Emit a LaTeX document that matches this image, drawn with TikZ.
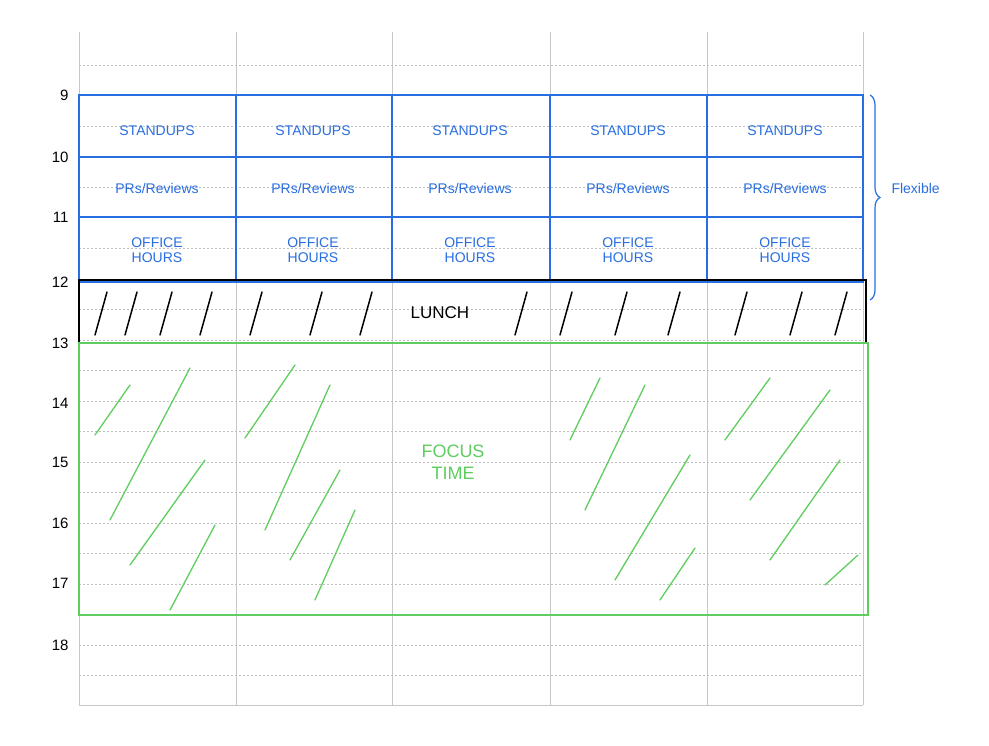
\documentclass[tikz,border=0pt]{standalone}
\usepackage{fontspec}
\setmainfont{Liberation Sans}
\usetikzlibrary{decorations.pathreplacing}
\definecolor{pen}{RGB}{40,110,225}
\definecolor{grn}{RGB}{95,205,95}
\tikzset{
 solidgrid/.style={draw=black!22,line width=0.8pt},
 dashgrid/.style={draw=black!25,dashed,dash pattern=on 2pt off 2pt,line width=0.5pt},
 bluepen/.style={draw=pen,line width=1.4pt},
 bluetxt/.style={text=pen,font=\fontsize{14}{15}\selectfont,align=center},
 blackpen/.style={draw=black,line width=1.5pt,line cap=round},
 greenpen/.style={draw=grn,line width=1.3pt,line cap=round},
 hour/.style={font=\fontsize{15}{15}\selectfont,anchor=east}
}
\begin{document}
\begin{tikzpicture}[x=1pt,y=-1pt]
\useasboundingbox[fill=white] (0,0) rectangle (989,746);
% grid
\foreach \y in {65,126,187,248,309,370,431,492,553,614,675}
  \draw[dashgrid] (79,\y) -- (863,\y);
\foreach \y in {95,157,217,279,340,401,462,523,584,645}
  \draw[dashgrid] (79,\y) -- (863,\y);
\foreach \x in {79,236,392,550,707,863}
  \draw[solidgrid] (\x,32) -- (\x,705);
\draw[solidgrid] (79,705) -- (863,705);
% hours
\foreach \t/\y in {9/95,10/157,11/217,12/282,13/343,14/403,15/462,16/523,17/583,18/645}
  \node[hour] (h\t) at (72,\y) {\t};
% blue block
\draw[bluepen] (79,95) rectangle (863,282);
\draw[bluepen] (79,157) -- (863,157);
\draw[bluepen] (79,217) -- (863,217);
\foreach \x in {236,392,550,707} \draw[bluepen] (\x,95) -- (\x,282);
\foreach \x/\n in {157/1,313/2,470/3,628/4,785/5}{
  \node[bluetxt] (s\n) at (\x,131) {STANDUPS};
  \node[bluetxt] (p\n) at (\x,188) {PRs/Reviews};
  \node[bluetxt] (o\n) at (\x,250) {OFFICE\\HOURS};
}
% brace
\draw[pen,line width=1.2pt,decorate,decoration={brace,amplitude=10pt}] (870,95) -- (870,300);
\node[bluetxt,anchor=west] (flex) at (888,188) {Flexible};
% lunch
\draw[blackpen] (79,280) rectangle (866,343);
\node[font=\fontsize{17}{17}\selectfont] (lunch) at (440,313) {LUNCH};
\foreach \x in {95,125,160,200,250,310,360,515,560,615,668,735,790,835}
  \draw[blackpen] (\x,335) -- (\x+12,292);
% focus
\draw[greenpen] (79,343) rectangle (868,615);
\node[text=grn,font=\fontsize{18}{22}\selectfont,align=center] (focus) at (453,462) {FOCUS\\TIME};
\foreach \a/\b/\c/\d in {95/435/130/385, 110/520/190/368, 130/565/205/460, 170/610/215/525,
  245/438/295/365, 265/530/330/385, 290/560/340/470, 315/600/355/510,
  570/440/600/378, 585/510/645/385, 615/580/690/455, 660/600/695/548,
  725/440/770/378, 750/500/830/390, 770/560/840/460, 825/585/858/555}
  \draw[greenpen] (\a,\b) -- (\c,\d);
\end{tikzpicture}
\end{document}
